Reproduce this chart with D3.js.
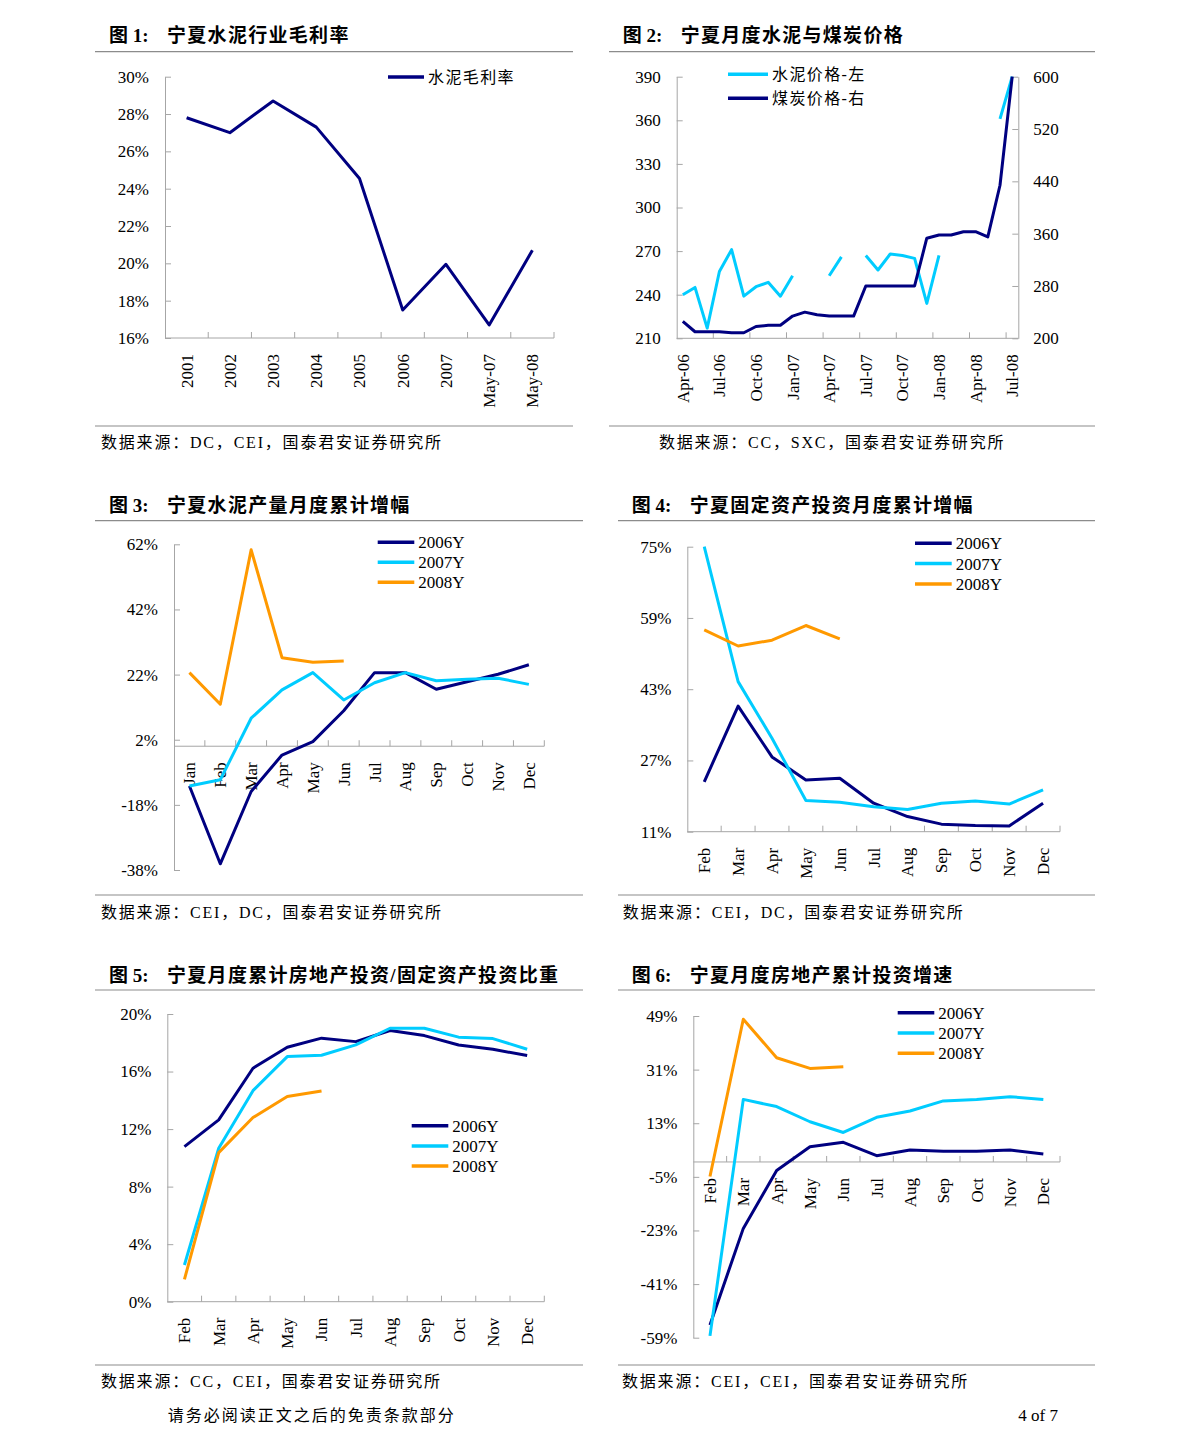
<!DOCTYPE html>
<html>
<head>
<meta charset="utf-8">
<script src="https://cdn.jsdelivr.net/npm/d3@7"></script>
<style>
body { margin: 0; background: #fff; }
svg text { font-family: "Liberation Serif", "Times New Roman", "Noto Sans CJK SC", serif; fill: #000; }
</style>
</head>
<body>
<svg id="page" width="1190" height="1446"></svg>
<script>
// ---- data ----
var yearsC1 = ["2001", "2002", "2003", "2004", "2005", "2006", "2007", "May-07", "May-08"];
var cementMargin = [27.8, 27.0, 28.7, 27.3, 24.55, 17.5, 19.95, 16.7, 20.7];
var ticksC1 = [16, 18, 20, 22, 24, 26, 28, 30];

var priceMonths = ["Apr-06", "May-06", "Jun-06", "Jul-06", "Aug-06", "Sep-06", "Oct-06", "Nov-06", "Dec-06",
    "Jan-07", "Feb-07", "Mar-07", "Apr-07", "May-07", "Jun-07", "Jul-07", "Aug-07", "Sep-07", "Oct-07",
    "Nov-07", "Dec-07", "Jan-08", "Feb-08", "Mar-08", "Apr-08", "May-08", "Jun-08", "Jul-08"];
var cementPrice = [240, 245, 217, 256, 271, 239, 245.5, 248.5, 239, 253, null, null, 253, 266, null,
    267, 257, 268, 267, 265, 234, 267, null, null, null, null, 361, 390];
var coalPrice = [226, 210, 210, 210, 208.5, 208.5, 218, 220, 220, 234, 240, 236, 234, 234, 234,
    280, 280, 280, 280, 280, 353, 358, 358, 363, 363, 355, 434, 600];
var ticksC2L = [210, 240, 270, 300, 330, 360, 390];
var ticksC2R = [200, 280, 360, 440, 520, 600];

var months12 = ["Jan", "Feb", "Mar", "Apr", "May", "Jun", "Jul", "Aug", "Sep", "Oct", "Nov", "Dec"];
var months11 = ["Feb", "Mar", "Apr", "May", "Jun", "Jul", "Aug", "Sep", "Oct", "Nov", "Dec"];
var seriesNames = ["2006Y", "2007Y", "2008Y"];

var output2006 = [-12.2, -36.1, -13.9, -2.7, 1.4, 10.9, 22.6, 22.6, 17.5, 19.8, 22.1, 25.0];
var output2007 = [-12.2, -10.3, 8.6, 17.3, 22.6, 14.2, 19.5, 22.6, 20.1, 20.6, 20.9, 19.0];
var output2008 = [22.6, 12.9, 60.3, 27.2, 25.8, 26.2];
var ticksC3 = [-38, -18, 2, 22, 42, 62];

var fai2006 = [22.2, 39.2, 27.8, 22.6, 23.0, 17.4, 14.4, 12.7, 12.4, 12.3, 17.4];
var fai2007 = [75, 44.7, 32.0, 18.0, 17.6, 16.6, 16.0, 17.4, 17.9, 17.2, 20.4];
var fai2008 = [56.3, 52.7, 54.0, 57.3, 54.3];
var ticksC4 = [11, 27, 43, 59, 75];

var reShare2006 = [10.78, 12.64, 16.23, 17.69, 18.32, 18.08, 18.85, 18.5, 17.85, 17.55, 17.11];
var reShare2007 = [2.55, 10.67, 14.67, 17.04, 17.13, 17.85, 19.01, 19.01, 18.39, 18.29, 17.55];
var reShare2008 = [1.55, 10.36, 12.8, 14.26, 14.65];
var ticksC5 = [0, 4, 8, 12, 16, 20];

var reGrowth2006 = [-54.7, -22.3, -2.9, 5.1, 6.6, 2.1, 4.0, 3.6, 3.6, 4.0, 2.7];
var reGrowth2007 = [-58.4, 21.0, 18.6, 13.5, 9.9, 15.0, 17.1, 20.5, 21.0, 21.9, 21.0];
var reGrowth2008 = [-4.9, 47.9, 35.0, 31.4, 32.0];
var ticksC6 = [-59, -41, -23, -5, 13, 31, 49];

var NAVY = "#000080", SKY = "#00ccff", ORANGE = "#ff9900";
var AXIS = "#a6a6a6", RULE = "#8c8c8c";

var svg = d3.select("#page");
svg.append("rect").attr("width", 1190).attr("height", 1446).attr("fill", "#fff");

var pct = function (d) { return d + "%"; };

// 标题 + 上下分隔线 + 数据来源
function frame(o) {
    svg.append("line").attr("x1", o.lx0).attr("x2", o.lx1).attr("y1", o.ruleTop).attr("y2", o.ruleTop)
        .attr("stroke", RULE).attr("stroke-width", 1.2);
    svg.append("line").attr("x1", o.lx0).attr("x2", o.lx1).attr("y1", o.ruleBottom).attr("y2", o.ruleBottom)
        .attr("stroke", RULE).attr("stroke-width", 1.2);
    svg.append("text").attr("x", o.tx).attr("y", o.ty).attr("dy", "0.35em")
        .style("font-size", "19px").style("font-weight", "bold").text(o.num);
    svg.append("text").attr("x", o.tx + 58).attr("y", o.ty).attr("dy", "0.35em")
        .style("font-size", "19px").style("font-weight", "bold").style("letter-spacing", "1.3px").text(o.title);
    svg.append("text").attr("x", o.sx).attr("y", o.sy).attr("dy", "0.35em")
        .style("font-size", "16px").style("letter-spacing", "1.8px").text(o.source);
}

// 一个折线图
function panel(o) {
    var g = svg.append("g");
    var x = d3.scaleBand().domain(o.cats).range([o.x0, o.x1]).paddingInner(0).paddingOuter(0);
    var y = d3.scaleLinear().domain(o.yDomain).range([o.y1, o.y0]);
    var bw = x.bandwidth();
    var axisY = y(o.baseAt);

    // y axis
    var ya = g.append("g").attr("transform", "translate(" + o.x0 + ",0)")
        .call(d3.axisLeft(y).tickValues(o.yTicks).tickSize(-6).tickSizeOuter(0).tickPadding(16).tickFormat(o.fmt));
    ya.select(".domain").attr("stroke", AXIS);
    ya.selectAll(".tick line").attr("stroke", AXIS);
    ya.selectAll("text").style("font-size", "17px");

    var yR = null;
    if (o.yRight) {
        yR = d3.scaleLinear().domain(o.yRight.domain).range([o.y1, o.y0]);
        var yb = g.append("g").attr("transform", "translate(" + o.x1 + ",0)")
            .call(d3.axisRight(yR).tickValues(o.yRight.ticks).tickSize(-6).tickSizeOuter(0).tickPadding(15));
        yb.select(".domain").attr("stroke", AXIS);
        yb.selectAll(".tick line").attr("stroke", AXIS);
        yb.selectAll("text").style("font-size", "17px");
    }

    // x axis
    g.append("line").attr("x1", o.x0).attr("x2", o.x1).attr("y1", axisY).attr("y2", axisY).attr("stroke", AXIS);
    var every = o.every || 1;
    var bounds = o.cats.map(function (c, i) { return i; }).filter(function (i) { return i > 0 && i % every === 0; });
    if (!o.yRight) bounds.push(o.cats.length);
    g.selectAll(null).data(bounds).enter().append("line")
        .attr("x1", function (i) { return o.x0 + i * x.step(); })
        .attr("x2", function (i) { return o.x0 + i * x.step(); })
        .attr("y1", axisY).attr("y2", axisY - 6).attr("stroke", AXIS);
    g.selectAll(null).data(o.cats.filter(function (c, i) { return i % every === 0; })).enter().append("text")
        .attr("transform", function (c) { return "translate(" + (x(c) + bw / 2) + "," + (axisY + 16) + ") rotate(-90)"; })
        .attr("text-anchor", "end").attr("dy", "0.35em").style("font-size", "17px").text(function (c) { return c; });

    // lines
    o.series.forEach(function (s) {
        var sc = s.right ? yR : y;
        var line = d3.line()
            .defined(function (v) { return v != null; })
            .x(function (v, i) { return x(o.cats[i]) + bw / 2; })
            .y(function (v) { return sc(v); });
        g.append("path").datum(s.values).attr("d", line).attr("fill", "none")
            .attr("stroke", s.color).attr("stroke-width", 3).attr("stroke-linejoin", "round");
    });

    // legend
    var lg = o.legend;
    o.series.forEach(function (s, i) {
        var ly = lg.y + i * lg.gap;
        g.append("line").attr("x1", lg.x).attr("x2", lg.x + lg.w).attr("y1", ly).attr("y2", ly)
            .attr("stroke", s.color).attr("stroke-width", 3.5);
        g.append("text").attr("x", lg.x + lg.w + 4).attr("y", ly).attr("dy", "0.35em")
            .style("font-size", s.cn ? "16px" : "17px").style("letter-spacing", s.cn ? "1.4px" : "0px").text(s.name);
    });
}

// 图1
frame({ lx0: 95, lx1: 573, ruleTop: 51.7, ruleBottom: 426, tx: 109, ty: 35, num: "图 1:", title: "宁夏水泥行业毛利率",
    sx: 101, sy: 442.7, source: "数据来源：DC，CEI，国泰君安证券研究所" });
panel({ x0: 165, x1: 554, y0: 76.7, y1: 338, cats: yearsC1, yDomain: [16, 30], yTicks: ticksC1, fmt: pct, baseAt: 16,
    series: [{ values: cementMargin, color: NAVY, name: "水泥毛利率", cn: true }],
    legend: { x: 388, y: 77, w: 36, gap: 0 } });

// 图2
frame({ lx0: 609, lx1: 1095, ruleTop: 51.7, ruleBottom: 426, tx: 622.7, ty: 35, num: "图 2:", title: "宁夏月度水泥与煤炭价格",
    sx: 659, sy: 442.7, source: "数据来源：CC，SXC，国泰君安证券研究所" });
panel({ x0: 676.7, x1: 1018.3, y0: 76.7, y1: 338.3, cats: priceMonths, yDomain: [210, 390], yTicks: ticksC2L,
    fmt: function (d) { return d; }, baseAt: 210, every: 3,
    yRight: { domain: [200, 600], ticks: ticksC2R },
    series: [
        { values: cementPrice, color: SKY, name: "水泥价格-左", cn: true },
        { values: coalPrice, color: NAVY, name: "煤炭价格-右", cn: true, right: true }
    ],
    legend: { x: 728, y: 74.3, w: 40, gap: 24 } });

// 图3
frame({ lx0: 95, lx1: 583, ruleTop: 520.7, ruleBottom: 895, tx: 109, ty: 505, num: "图 3:", title: "宁夏水泥产量月度累计增幅",
    sx: 101, sy: 912.7, source: "数据来源：CEI，DC，国泰君安证券研究所" });
panel({ x0: 174, x1: 544.3, y0: 544.3, y1: 870, cats: months12, yDomain: [-38, 62], yTicks: ticksC3, fmt: pct, baseAt: 0,
    series: [
        { values: output2006, color: NAVY, name: seriesNames[0] },
        { values: output2007, color: SKY, name: seriesNames[1] },
        { values: output2008, color: ORANGE, name: seriesNames[2] }
    ],
    legend: { x: 377.7, y: 542.3, w: 36.6, gap: 20 } });

// 图4
frame({ lx0: 618, lx1: 1095, ruleTop: 520.7, ruleBottom: 895, tx: 631.7, ty: 505, num: "图 4:", title: "宁夏固定资产投资月度累计增幅",
    sx: 622.7, sy: 912.7, source: "数据来源：CEI，DC，国泰君安证券研究所" });
panel({ x0: 687.3, x1: 1060, y0: 546.7, y1: 831.7, cats: months11, yDomain: [11, 75], yTicks: ticksC4, fmt: pct, baseAt: 11,
    series: [
        { values: fai2006, color: NAVY, name: seriesNames[0] },
        { values: fai2007, color: SKY, name: seriesNames[1] },
        { values: fai2008, color: ORANGE, name: seriesNames[2] }
    ],
    legend: { x: 915, y: 543.3, w: 36.7, gap: 20.3 } });

// 图5
frame({ lx0: 95, lx1: 583, ruleTop: 990, ruleBottom: 1365, tx: 109, ty: 975, num: "图 5:", title: "宁夏月度累计房地产投资/固定资产投资比重",
    sx: 101, sy: 1381.7, source: "数据来源：CC，CEI，国泰君安证券研究所" });
panel({ x0: 167.3, x1: 544.3, y0: 1014, y1: 1301.7, cats: months11, yDomain: [0, 20], yTicks: ticksC5, fmt: pct, baseAt: 0,
    series: [
        { values: reShare2006, color: NAVY, name: seriesNames[0] },
        { values: reShare2007, color: SKY, name: seriesNames[1] },
        { values: reShare2008, color: ORANGE, name: seriesNames[2] }
    ],
    legend: { x: 411.7, y: 1125.7, w: 36.6, gap: 20.2 } });

// 图6
frame({ lx0: 618, lx1: 1095, ruleTop: 990, ruleBottom: 1365, tx: 631.7, ty: 975, num: "图 6:", title: "宁夏月度房地产累计投资增速",
    sx: 622, sy: 1381.7, source: "数据来源：CEI，CEI，国泰君安证券研究所" });
panel({ x0: 693.3, x1: 1060, y0: 1016, y1: 1337.7, cats: months11, yDomain: [-59, 49], yTicks: ticksC6, fmt: pct, baseAt: 0,
    series: [
        { values: reGrowth2006, color: NAVY, name: seriesNames[0] },
        { values: reGrowth2007, color: SKY, name: seriesNames[1] },
        { values: reGrowth2008, color: ORANGE, name: seriesNames[2] }
    ],
    legend: { x: 897.7, y: 1012.7, w: 36.6, gap: 20.3 } });

// 页脚
svg.append("text").attr("x", 167.7).attr("y", 1415).attr("dy", "0.35em")
    .style("font-size", "16px").style("letter-spacing", "2px").attr("fill", "#333").text("请务必阅读正文之后的免责条款部分");
svg.append("text").attr("x", 1058).attr("y", 1415).attr("dy", "0.35em").attr("text-anchor", "end")
    .style("font-size", "17px").text("4 of 7");
</script>
</body>
</html>
